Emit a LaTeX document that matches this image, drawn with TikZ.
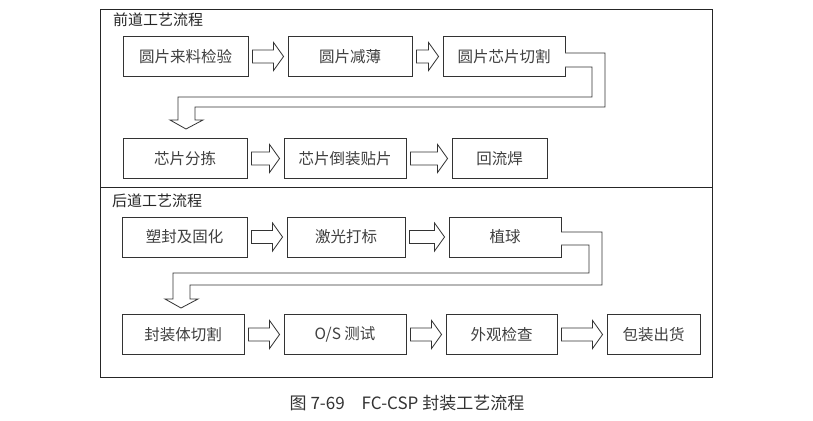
\documentclass[tikz,border=0pt]{standalone}
\usepackage{fontspec}
\setmainfont{Noto Sans CJK SC}
\usetikzlibrary{calc}
\tikzset{
  box/.style={draw=black!80, line width=0.9pt, minimum height=40pt, inner sep=0pt, text=black!75, font=\fontsize{15.5pt}{15.5pt}\selectfont},
  blk/.style={draw=black!80, line width=0.8pt, fill=white},
  ttl/.style={anchor=west, inner sep=0pt, font=\fontsize{15pt}{15pt}\selectfont, text=black!85},
  frame/.style={draw=black!85, line width=0.9pt}
}
\newcommand{\barr}[2]{\draw[blk] let \p1=(#1.east), \p2=(#2.west) in
  (\x1+4pt,\y1+6.5pt) -- (\x2-14pt,\y1+6.5pt) -- (\x2-14pt,\y1+14pt) -- (\x2-4pt,\y1) -- (\x2-14pt,\y1-14pt) -- (\x2-14pt,\y1-6.5pt) -- (\x1+4pt,\y1-6.5pt) -- cycle;}
\begin{document}
\begin{tikzpicture}[x=1pt,y=-1pt]
\useasboundingbox (0,0) rectangle (813,420);
\fill[white] (0,0) rectangle (813,420);
\draw[frame] (100,9) rectangle (712,187);
\draw[frame] (100,187) rectangle (712,377);
\node[ttl] (t1) at (113,20) {前道工艺流程};
\node[ttl] (t2) at (112,201) {后道工艺流程};
% row 1
\node[box, minimum width=125pt] (a1) at (185.5,56.5) {圆片来料检验};
\node[box, minimum width=124pt] (a2) at (350,56.5) {圆片减薄};
\node[box, minimum width=122pt] (a3) at (504,56.5) {圆片芯片切割};
% row 2
\node[box, minimum width=124pt] (b1) at (185,158.5) {芯片分拣};
\node[box, minimum width=122pt] (b2) at (345,158.5) {芯片倒装贴片};
\node[box, minimum width=95pt] (b3) at (499.5,158.5) {回流焊};
% row 3
\node[box, minimum width=125pt] (c1) at (184.5,237) {塑封及固化};
\node[box, minimum width=118pt] (c2) at (346,237) {激光打标};
\node[box, minimum width=112pt] (c3) at (505,237) {植球};
% row 4
\node[box, minimum width=122pt] (d1) at (183,334.5) {封装体切割};
\node[box, minimum width=122pt] (d2) at (345,334.5) {O/S 测试};
\node[box, minimum width=111pt] (d3) at (501.5,334.5) {外观检查};
\node[box, minimum width=93pt] (d4) at (653.5,334.5) {包装出货};
\barr{a1}{a2}\barr{a2}{a3}
\barr{b1}{b2}\barr{b2}{b3}
\barr{c1}{c2}\barr{c2}{c3}
\barr{d1}{d2}\barr{d2}{d3}\barr{d3}{d4}
% U-turn arrows
\draw[blk] (565,53) -- (605,53) -- (605,107) -- (195,107) -- (195,120) -- (203,120) -- (186,129) -- (170,120) -- (178,120) -- (178,97) -- (592,97) -- (592,67) -- (565,67);
\draw[blk] (561,232) -- (602,232) -- (602,285) -- (190,285) -- (190,299) -- (198,299) -- (181,308) -- (165,299) -- (173,299) -- (173,273) -- (589,273) -- (589,245) -- (561,245);
\node[font=\fontsize{17pt}{17pt}\selectfont, text=black!80] (cap) at (407,403) {图 7-69\quad FC-CSP 封装工艺流程};
\end{tikzpicture}
\end{document}
